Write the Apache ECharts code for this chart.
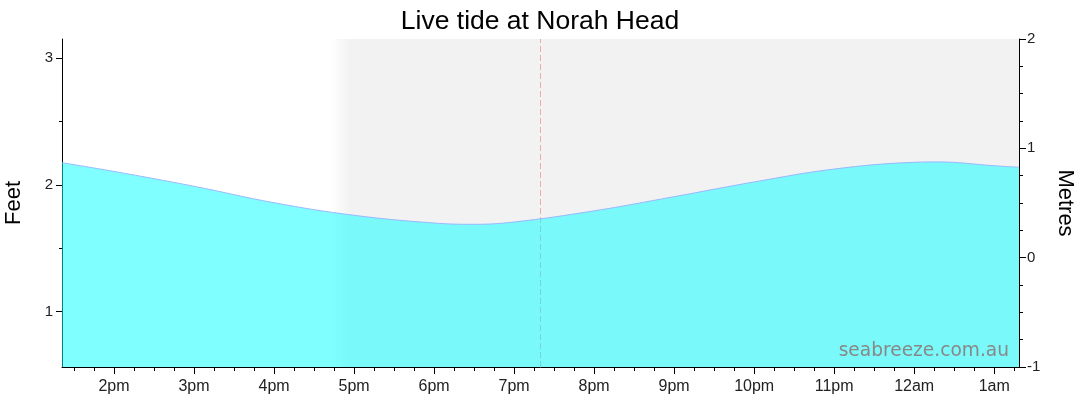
<!DOCTYPE html>
<html>
<head>
<meta charset="utf-8">
<script src="https://cdn.jsdelivr.net/npm/echarts@6/dist/echarts.min.js"></script>
<style>
  html, body { margin: 0; padding: 0; background: #fff; }
  #chart { width: 1080px; height: 414px; }
</style>
</head>
<body>
<div id="chart"></div>
<script>
// time in hours (13 = 1pm, 24 = midnight), height in feet
var tideHours = [13.35, 14, 15, 16, 17, 18, 18.5, 19, 20, 21, 22, 23, 24, 24.3, 25, 25.31];
var tideFeet  = [2.176, 2.107, 1.990, 1.860, 1.761, 1.700, 1.690, 1.708, 1.796, 1.908, 2.024, 2.126, 2.179, 2.182, 2.152, 2.140];
var hourTicks = [14, 15, 16, 17, 18, 19, 20, 21, 22, 23, 24, 25];
var feetTicks = [1, 2, 3];
var startHour = 13.35;
var endHour = 25.31;
var nightStart = 16.7;
var nowHour = 19.33;

function hourLabel(v) {
    if (Math.abs(v - Math.round(v)) > 1e-6) return '';
    var h = Math.round(v) % 24;
    var suffix = h >= 12 ? 'pm' : 'am';
    var h12 = h % 12 === 0 ? 12 : h % 12;
    return h12 + suffix;
}

var tideData = [];
for (var i = 0; i < tideHours.length; i++) {
    tideData.push([tideHours[i], tideFeet[i]]);
}

var chart = echarts.init(document.getElementById('chart'));
var axisColor = '#000';
var labelColor = '#222';
var font = 'Liberation Sans, Arial, sans-serif';

var option = {
    animation: false,
    textStyle: { fontFamily: font },
    title: {
        text: 'Live tide at Norah Head',
        left: 'center',
        top: 3,
        textStyle: { fontSize: 26.5, fontWeight: 'normal', color: '#000', fontFamily: font }
    },
    grid: { left: 62, right: 61, top: 39, bottom: 47, containLabel: false, outerBoundsMode: 'none' },
    xAxis: {
        type: 'value',
        min: startHour,
        max: endHour,
        splitNumber: 12,
        axisLine: { onZero: false, lineStyle: { color: axisColor, width: 1 } },
        axisTick: { length: 7, customValues: hourTicks, lineStyle: { color: axisColor } },
        minorTick: { show: true, splitNumber: 4, length: 4, lineStyle: { color: axisColor } },
        splitLine: { show: false },
        axisLabel: {
            customValues: hourTicks,
            formatter: hourLabel,
            color: labelColor,
            fontSize: 16,
            margin: 12
        }
    },
    yAxis: [{
        type: 'value',
        min: 0.564,
        max: 3.152,
        splitNumber: 3,
        name: 'Feet',
        nameLocation: 'middle',
        nameGap: 37,
        nameTextStyle: { fontSize: 22, color: '#000' },
        axisLine: { show: true, onZero: false, lineStyle: { color: axisColor } },
        axisTick: { show: true, length: 6, customValues: feetTicks, lineStyle: { color: axisColor } },
        minorTick: { show: true, splitNumber: 2, length: 3, lineStyle: { color: axisColor } },
        splitLine: { show: false },
        axisLabel: {
            customValues: feetTicks,
            color: labelColor,
            fontSize: 15,
            margin: 9
        }
    }, {
        type: 'value',
        position: 'right',
        min: -1,
        max: 2,
        interval: 1,
        name: 'Metres',
        nameLocation: 'middle',
        nameRotate: -90,
        nameGap: 35,
        nameTextStyle: { fontSize: 22, color: '#000' },
        axisLine: { show: true, onZero: false, lineStyle: { color: axisColor } },
        axisTick: { show: true, length: 7, lineStyle: { color: axisColor } },
        minorTick: { show: true, splitNumber: 4, length: 4, lineStyle: { color: axisColor } },
        splitLine: { show: false },
        axisLabel: { color: labelColor, fontSize: 15, margin: 8 }
    }],
    graphic: [{
        type: 'text',
        right: 71,
        top: 342,
        z: 10,
        style: {
            text: 'seabreeze.com.au',
            fill: '#888',
            font: '18.6px DejaVu Sans, sans-serif'
        }
    }],
    series: [{
        name: 'Tide',
        type: 'line',
        yAxisIndex: 0,
        data: tideData,
        smooth: 0.4,
        showSymbol: false,
        z: 2,
        lineStyle: { color: '#9ab8ff', width: 1 },
        areaStyle: { color: 'rgba(0,255,255,0.5)', opacity: 1 },
        markArea: {
            silent: true,
            z: 1,
            itemStyle: {
                color: new echarts.graphic.LinearGradient(0, 0, 1, 0, [
                    { offset: 0, color: 'rgba(242,242,242,0)' },
                    { offset: 0.03, color: 'rgba(242,242,242,1)' },
                    { offset: 1, color: 'rgba(242,242,242,1)' }
                ])
            },
            data: [[{ xAxis: nightStart }, { xAxis: endHour }]]
        },
        markLine: {
            silent: true,
            z: 1.5,
            symbol: 'none',
            label: { show: false },
            lineStyle: { color: 'rgba(240,80,80,0.45)', type: [6, 3], width: 1 },
            data: [{ xAxis: nowHour }]
        }
    }]
};
chart.setOption(option);
</script>
</body>
</html>
